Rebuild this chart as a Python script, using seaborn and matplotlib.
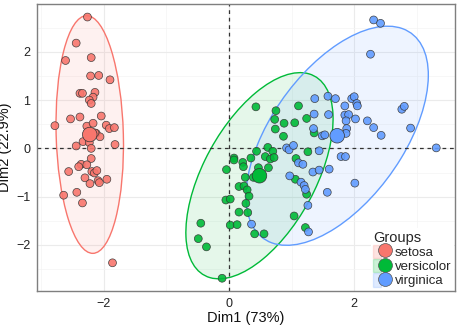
import numpy as np
import pandas as pd
import matplotlib
matplotlib.use("Agg")
import matplotlib.pyplot as plt
import seaborn as sns
from matplotlib.patches import Ellipse, Patch
from matplotlib.lines import Line2D
from matplotlib.legend_handler import HandlerTuple

groups = ["setosa", "versicolor", "virginica"]
colors = ["#F8766D", "#00BA38", "#619CFF"]

setosa_x = [-2.26, -2.44, -2.61, -2.20, -2.21, -2.08, -1.90, -2.38, -2.34, -2.14, -2.17, -2.23,
            -2.20, -2.04, -2.38, -2.53, -2.78, -2.27, -2.17, -1.96, -1.91, -1.83, -2.12, -2.06,
            -2.14, -2.33, -2.44, -2.23, -2.20, -1.82, -2.20, -2.36, -2.40, -2.27, -2.56, -2.19,
            -2.15, -2.11, -2.30, -1.95, -2.09, -2.07, -2.22, -2.43, -2.64, -2.34, -1.86]
setosa_y = [2.72, 2.18, 1.82, 1.88, 1.50, 1.51, 1.42, 1.14, 1.14, 1.16, 1.06, 1.00,
            0.93, 0.67, 0.65, 0.61, 0.47, 0.46, 0.52, 0.48, 0.41, 0.43, 0.31, 0.24,
            0.32, 0.14, 0.05, 0.12, 0.00, 0.08, -0.21, -0.33, -0.38, -0.34, -0.48, -0.48,
            -0.51, -0.46, -0.61, -0.64, -0.67, -0.71, -0.73, -0.91, -0.97, -1.13, -2.37]

versicolor_x = [0.43, 0.75, 0.73, 0.88, 1.11, 1.24, 1.05, 0.74, 0.87, 1.36,
                0.44, 0.62, 0.70, 0.58, 0.66, 0.72, 0.35, 0.08, 0.08, 0.22,
                0.23, 1.07, 1.26, 0.47, 0.63, -0.04, 0.39, 0.26, 0.16,
                0.24, 0.29, 1.06, 1.24, 0.32, 0.27, -0.05, 0.02, 0.16, 0.30,
                1.04, -0.45, 0.02, 0.13, 0.41, 0.56, 1.22, -0.49, -0.36, -0.11]
versicolor_y = [0.86, 0.78, 0.60, 0.52, 0.88, 0.62, 0.53, 0.40, 0.25, 0.32,
                -0.06, 0.02, -0.06, -0.17, -0.22, -0.19, -0.20, -0.20, -0.24, -0.29,
                -0.38, -0.21, -0.07, -0.40, -0.40, -0.44, -0.60, -0.60, -0.79,
                -0.78, -0.86, -0.64, -0.95, -0.99, -1.14, -1.07, -1.05, -1.32, -1.33,
                -1.40, -1.55, -1.59, -1.58, -1.77, -1.77, -1.64, -1.87, -2.04, -2.69]

virginica_x = [1.37, 1.36, 1.35, 0.92, 0.96, 1.03, 1.11, 1.18,
               1.34, 1.44, 0.97, 1.15, 1.20, 1.22, 1.26, 0.36, 1.27,
               1.58, 1.70, 1.96, 2.00, 1.85, 2.04, 2.05, 1.59, 1.85, 1.91,
               1.87, 2.02, 2.21, 1.88, 1.87, 2.31, 1.49, 1.53,
               2.31, 2.42, 2.26, 2.76, 2.80, 2.90, 2.43, 3.31, 1.44, 1.79, 1.86,
               1.60, 2.01, 1.57]
virginica_y = [1.03, 0.71, 0.41, 0.01, -0.03, 0.06, -0.30, -0.33,
               -0.49, -0.45, -0.57, -0.70, -0.77, -0.85, -1.18, -1.57, -1.73,
               1.08, 1.03, 1.03, 1.07, 0.88, 0.93, 0.88, 0.70, 0.69, 0.70,
               0.57, 0.61, 0.57, 0.41, 0.31, 0.43, 0.26, 0.28,
               2.66, 2.59, 1.95, 0.81, 0.87, 0.42, 0.27, 0.01, -0.05, -0.17, -0.17,
               -0.43, -0.72, -0.91]

df = pd.concat([
    pd.DataFrame({"Dim1": setosa_x, "Dim2": setosa_y, "Groups": "setosa"}),
    pd.DataFrame({"Dim1": versicolor_x, "Dim2": versicolor_y, "Groups": "versicolor"}),
    pd.DataFrame({"Dim1": virginica_x, "Dim2": virginica_y, "Groups": "virginica"}),
])

sns.set_theme(style="whitegrid")
plt.rcParams["font.family"] = ["Liberation Sans", "DejaVu Sans"]

fig = plt.figure(figsize=(4.74, 3.25), dpi=100)
ax = fig.add_axes([0.0775, 0.1037, 0.8825, 0.884])

# confidence ellipses (normal, 95%)
radius = np.sqrt(2 * 3.187)
for g, c in zip(groups, colors):
    sub = df[df.Groups == g]
    cov = np.cov(sub.Dim1, sub.Dim2)
    vals, vecs = np.linalg.eigh(cov)
    order = vals.argsort()[::-1]
    vals, vecs = vals[order], vecs[:, order]
    ang = np.degrees(np.arctan2(vecs[1, 0], vecs[0, 0]))
    w, h = 2 * radius * np.sqrt(vals)
    ctr = (sub.Dim1.mean(), sub.Dim2.mean())
    ax.add_patch(Ellipse(ctr, w, h, angle=ang, facecolor=c, alpha=0.1, edgecolor="none", zorder=1))
    ax.add_patch(Ellipse(ctr, w, h, angle=ang, facecolor="none", edgecolor=c, lw=1.0, zorder=2))

ax.axhline(0, color="#333333", ls=(0, (3, 3)), lw=0.9, zorder=2.5)
ax.axvline(0, color="#333333", ls=(0, (3, 3)), lw=0.9, zorder=2.5)

sns.scatterplot(data=df, x="Dim1", y="Dim2", hue="Groups", hue_order=groups,
                palette=colors, s=32, edgecolor="#333333", linewidth=0.5,
                alpha=0.9, legend=False, ax=ax, zorder=3)

cent = df.groupby("Groups", sort=False)[["Dim1", "Dim2"]].mean().reset_index()
sns.scatterplot(data=cent, x="Dim1", y="Dim2", hue="Groups", hue_order=groups,
                palette=colors, s=110, edgecolor="#333333", linewidth=0.5,
                legend=False, ax=ax, zorder=4)

ax.set_xlim(-3.07, 3.61)
ax.set_ylim(-2.96, 2.99)
ax.set_xticks([-2, 0, 2])
ax.set_yticks([-2, -1, 0, 1, 2])
ax.set_xticks([-3, -1, 1, 3], minor=True)
ax.set_yticks([-2.5, -1.5, -0.5, 0.5, 1.5, 2.5], minor=True)
ax.grid(which="major", color="#EBEBEB", lw=0.8)
ax.grid(which="minor", color="#F4F4F4", lw=0.5)
ax.tick_params(which="major", length=3, color="#333333", labelsize=9, labelcolor="#222222", pad=1.5)
ax.tick_params(which="minor", length=0)
for s in ax.spines.values():
    s.set_color("#7F7F7F")
    s.set_linewidth(1.0)
ax.set_xlabel("Dim1 (73%)", fontsize=10.5, labelpad=1, color="#111111")
ax.set_ylabel("Dim2 (22.9%)", fontsize=10.5, labelpad=1, color="#111111")
ax.yaxis.set_label_coords(-0.058, 0.5)

handles = []
for c in colors:
    bg = Patch(facecolor=c, alpha=0.2, edgecolor=c)
    mk = Line2D([], [], marker="o", ls="none", markersize=10, markerfacecolor=c,
                markeredgecolor="#555555", markeredgewidth=0.5)
    handles.append((bg, mk))
leg = ax.legend(handles, groups, title="Groups", loc="lower right",
                bbox_to_anchor=(1.0, 0.0), frameon=True, fontsize=9.5, title_fontsize=10.5,
                handler_map={tuple: HandlerTuple(ndivide=None, pad=0)},
                handlelength=1.2, handleheight=1.2, handletextpad=0.4,
                labelspacing=0.0, borderpad=0.2, borderaxespad=0.1)
leg.get_frame().set_edgecolor("none")
leg.get_frame().set_facecolor("white")
leg.get_frame().set_alpha(1)
leg._legend_box.align = "left"
leg.set_zorder(6)

fig.savefig("out.png", dpi=100)
